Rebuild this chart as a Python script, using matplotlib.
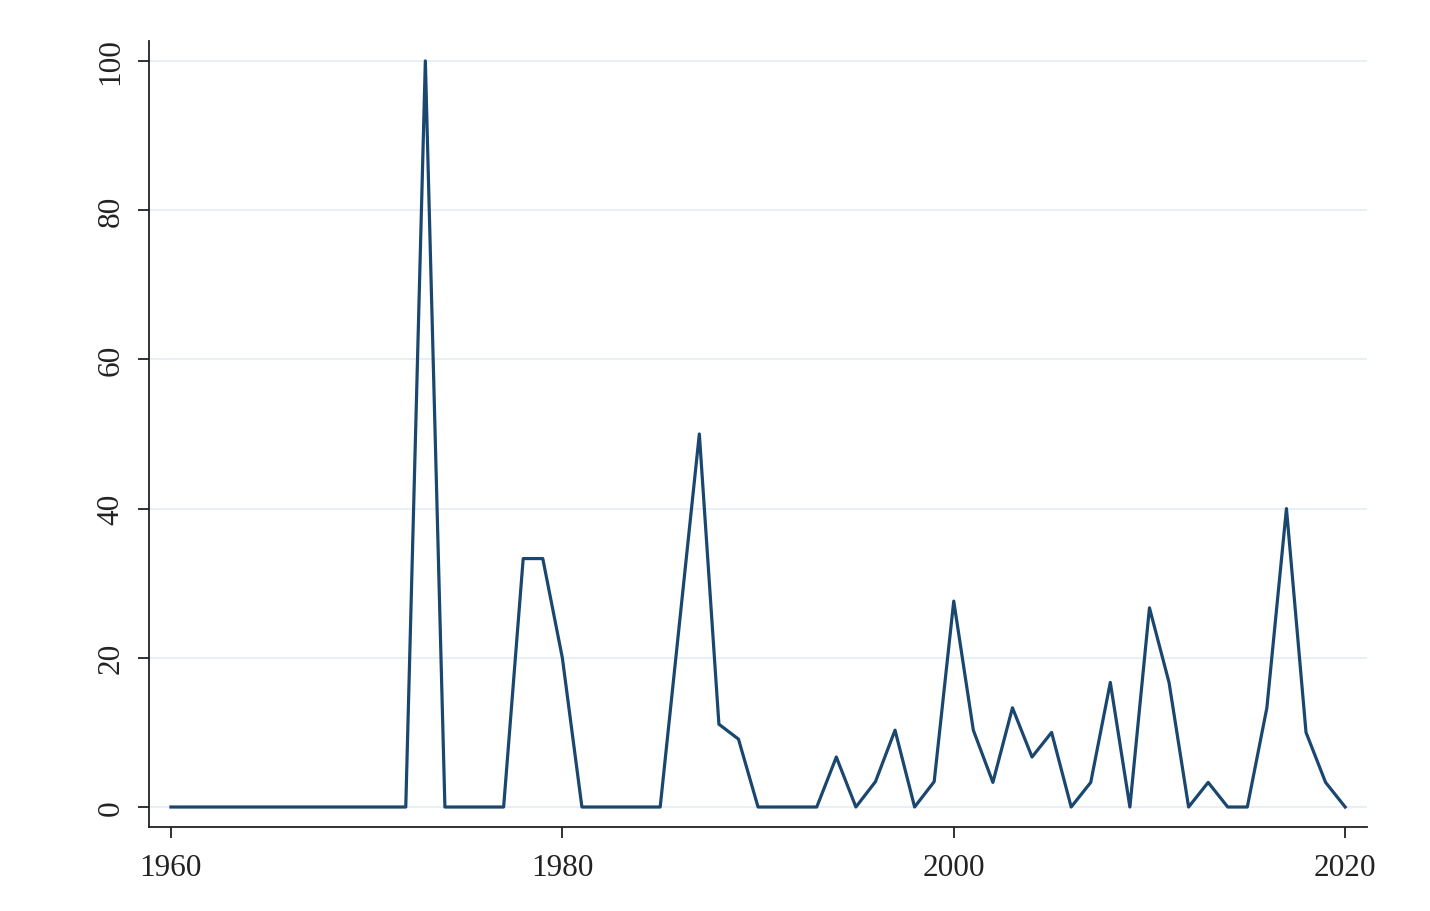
import matplotlib
matplotlib.use("Agg")
import matplotlib.pyplot as plt

years = list(range(1960, 2021))
values = ([0] * 13 + [100] + [0] * 4 + [33.3, 33.3, 20] + [0] * 5
          + [25, 50, 11.1, 9.1] + [0] * 4
          + [6.7, 0, 3.4, 10.3, 0, 3.4, 27.6, 10.3, 3.3, 13.3, 6.7, 10.0,
             0, 3.3, 16.7, 0, 26.7, 16.7, 0, 3.3, 0, 0, 13.3, 40, 10.0, 3.3, 0])
xticks = [1960, 1980, 2000, 2020]
yticks = [0, 20, 40, 60, 80, 100]

plt.rcParams["font.family"] = ["Liberation Serif", "DejaVu Serif"]

fig = plt.figure(figsize=(14.3, 9.12), dpi=100)
ax = fig.add_axes([0.1042, 0.0921, 0.8518, 0.8619])

ax.plot(years, values, color="#1a476f", lw=2.3, zorder=3)

ax.set_xlim(1958.88, 2021.12)
ax.set_ylim(-2.68, 102.68)
ax.set_xticks(xticks)
ax.set_yticks(yticks)
ax.grid(axis="y", color="#e8eff5", lw=1.5, zorder=0)
for s in ["top", "right"]:
    ax.spines[s].set_visible(False)
for s in ["left", "bottom"]:
    ax.spines[s].set_linewidth(1.3)
    ax.spines[s].set_color("#222222")
ax.tick_params(axis="both", direction="out", length=8, width=1.3,
               labelsize=22.5, colors="#222222")
ax.tick_params(axis="x", pad=11)
ax.tick_params(axis="y", pad=9)
for lab in ax.get_yticklabels():
    lab.set_rotation(90)
    lab.set_va("center")

fig.savefig("out.png", dpi=100)
